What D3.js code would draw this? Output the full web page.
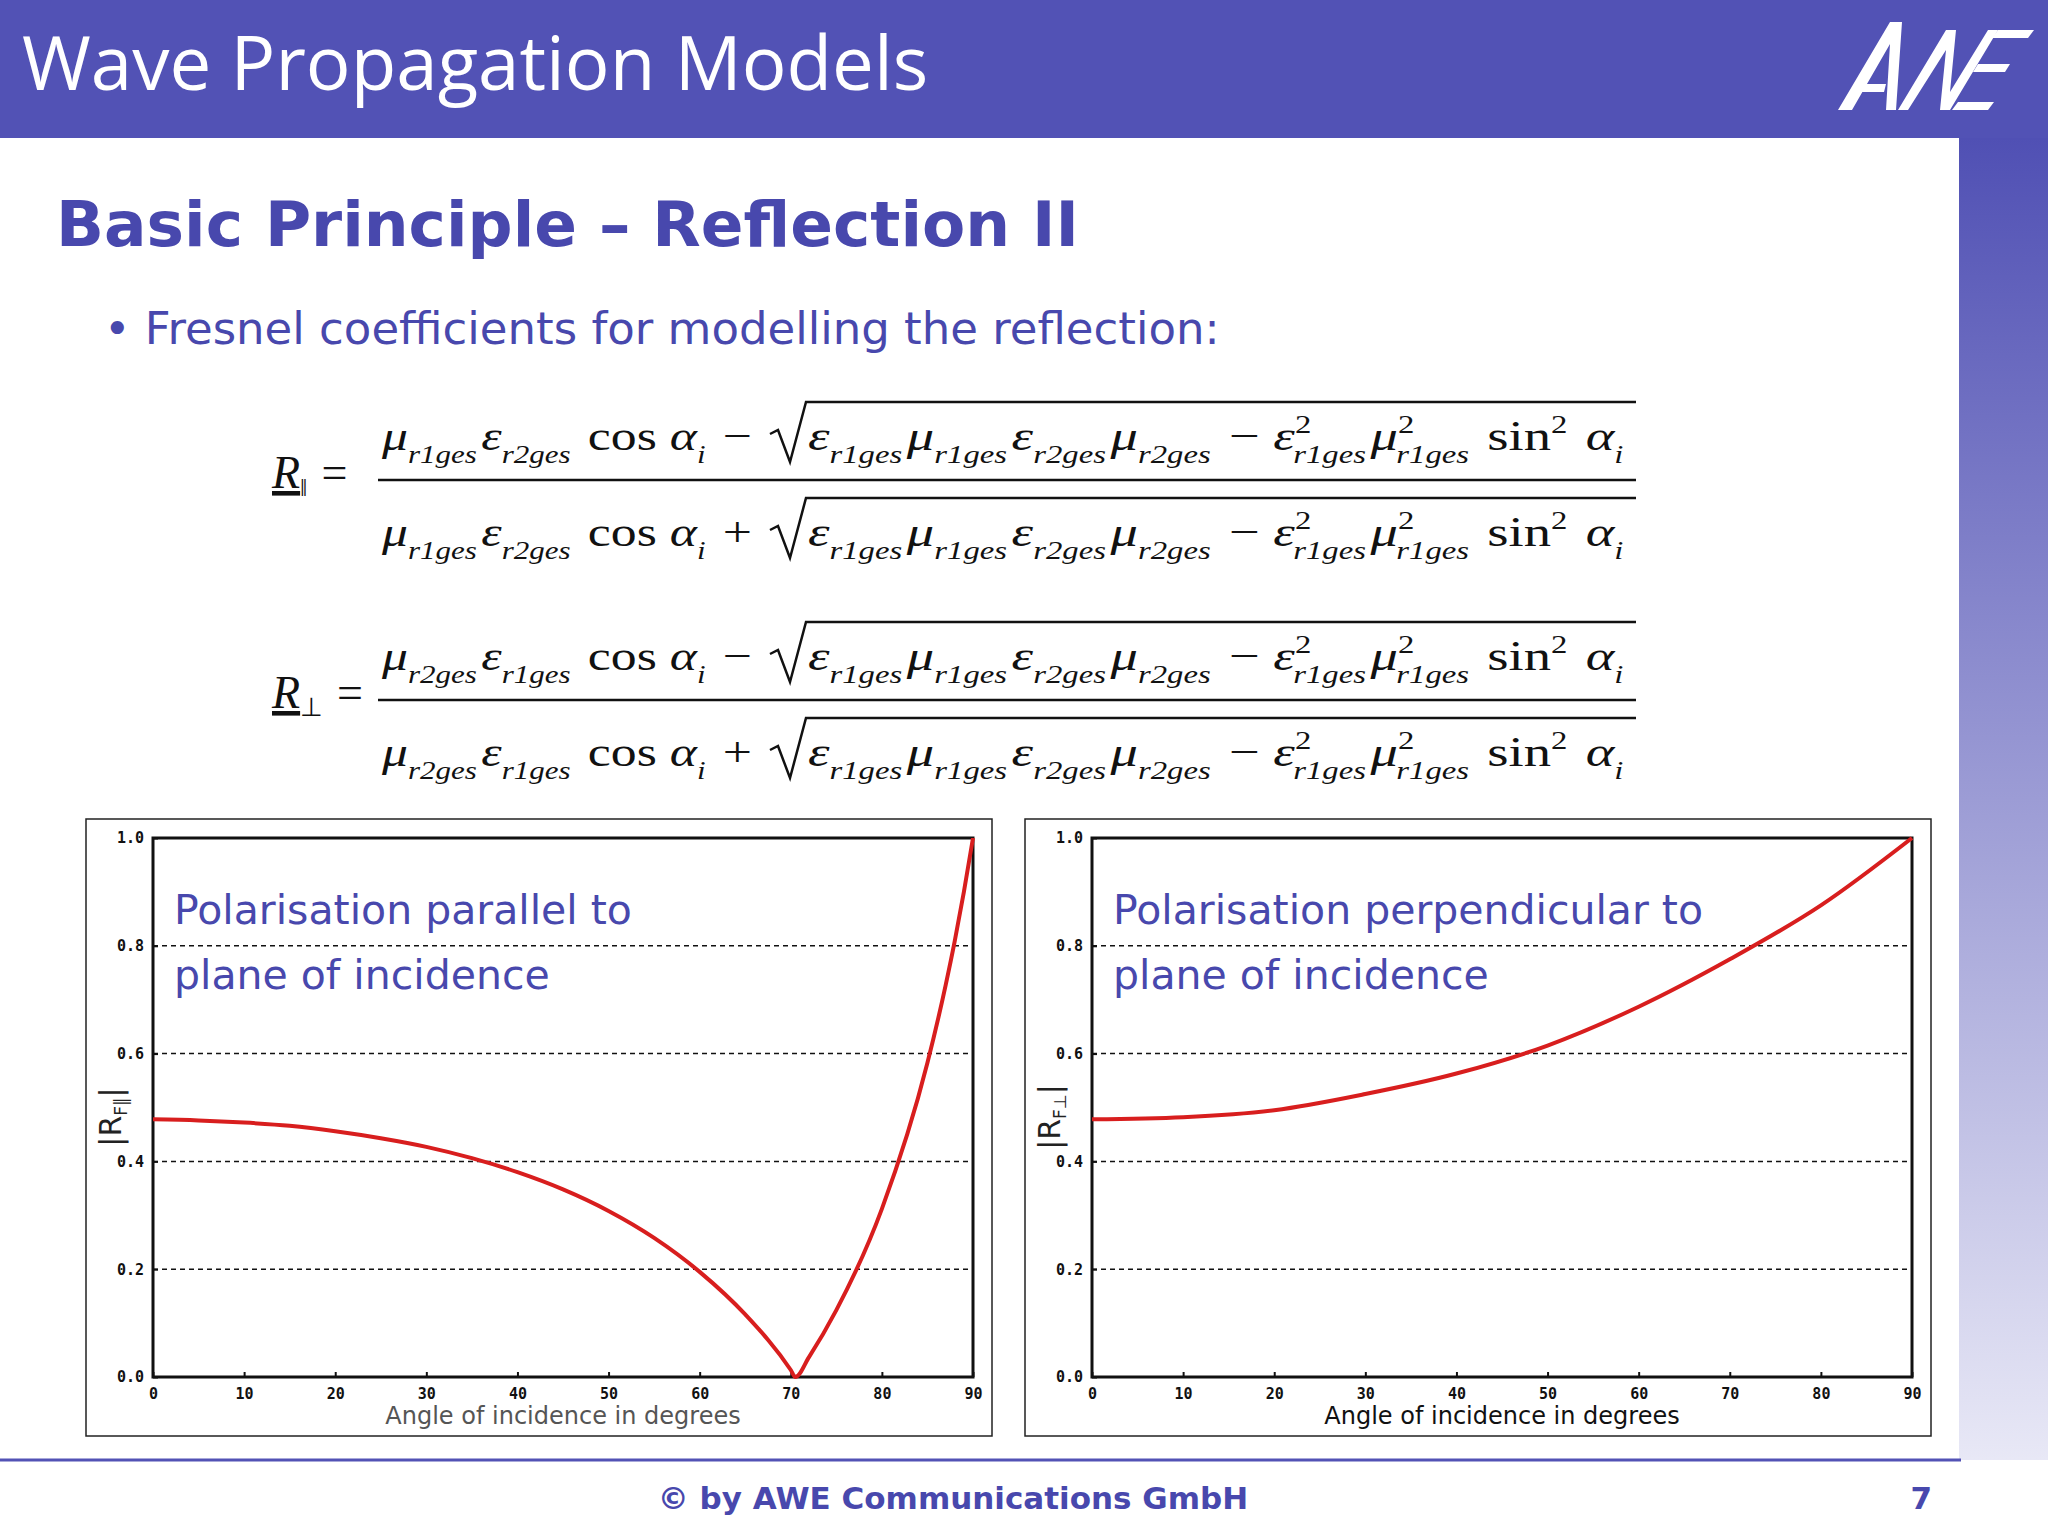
<!DOCTYPE html>
<html><head><meta charset="utf-8">
<script src="https://cdn.jsdelivr.net/npm/d3@7"></script>
<style>body{margin:0;background:#fff}svg{display:block}</style>
</head><body>
<script>
const titleText = "Wave Propagation Models";
const subtitleText = "Basic Principle \u2013 Reflection II";
const bulletText = "Fresnel coefficients for modelling the reflection:";
const footerText = "\u00a9 by AWE Communications GmbH";
const pageNumber = "7";
const xTicks = [0,10,20,30,40,50,60,70,80,90];
const yTicks = [0.0,0.2,0.4,0.6,0.8,1.0];
const parAngles = [0,5,10,15,20,25,30,35,40,45,50,55,60,65,70,70.5,72,75,80,85,87,88,89,90];
const parValues = [0.478,0.476,0.472,0.466,0.456,0.443,0.427,0.406,0.380,0.348,0.308,0.258,0.195,0.116,0.013,0.0,0.037,0.124,0.312,0.583,0.727,0.809,0.90,1.0];
const perAngles = [0,10,20,30,40,50,60,70,80,90];
const perValues = [0.478,0.482,0.495,0.525,0.563,0.615,0.687,0.775,0.875,1.0];
const labels = ["Polarisation parallel to|plane of incidence","Polarisation perpendicular to|plane of incidence"];

const W=2048,H=1538, BLUE="#5252b5", TXT="#4848ad";
const svg=d3.select("body").append("svg").attr("width",W).attr("height",H);
const defs=svg.append("defs");
const gr=defs.append("linearGradient").attr("id","side").attr("x1",0).attr("y1",0).attr("x2",0).attr("y2",1);
gr.append("stop").attr("offset","0").attr("stop-color","#5050b4");
gr.append("stop").attr("offset","1").attr("stop-color","#e8e8f6");
svg.append("rect").attr("x",1959).attr("y",138).attr("width",89).attr("height",1322).attr("fill","url(#side)");
svg.append("rect").attr("x",0).attr("y",0).attr("width",W).attr("height",138).attr("fill",BLUE);
svg.append("line").attr("x1",0).attr("x2",1961).attr("y1",1460).attr("y2",1460).attr("stroke",BLUE).attr("stroke-width",3);
svg.append("text").attr("x",22).attr("y",90).attr("font-family","Open Sans, sans-serif").attr("font-size",74.5).attr("fill","#fff").text(titleText);
// logo
const lg=svg.append("g").attr("transform","translate(1838,22)").attr("fill","#fff");
lg.append("path").attr("d","M0,88 L52,0 L64,0 L58,88 L48,88 L52,22 L14,88Z M20,62 L48,62 L46,70 L16,70Z");
lg.append("path").attr("d","M60,88 L108,8 L118,8 L112,70 L150,8 L160,8 L112,88 L102,88 L108,28 L70,88Z");
lg.append("path").attr("d","M160,8 L196,8 L190,16 L154,16Z M140,42 L172,42 L167,50 L135,50Z M120,80 L156,80 L150,88 L114,88Z");

svg.append("text").attr("x",56).attr("y",246).attr("font-family","Verdana, DejaVu Sans, sans-serif").attr("font-weight","bold").attr("font-size",63).attr("fill",TXT).text(subtitleText);
svg.append("text").attr("x",104).attr("y",344).attr("font-family","Verdana, DejaVu Sans, sans-serif").attr("font-size",45).attr("fill",TXT).text("\u2022 "+bulletText);

// equations
const SERIF="Liberation Serif, Times New Roman, serif";
function expr(x,y,tokens,size,len){
  const t=svg.append("text").attr("x",x).attr("y",y).attr("font-family",SERIF).attr("font-size",size).attr("fill","#111");
  tokens.forEach(k=>{
    const m=t.append("tspan").text(k.t).attr("font-style",k.i?"italic":"normal");
    if(k.sp) m.attr("dx",size*0.25);
    if(k.sup){ t.append("tspan").attr("font-size",size*0.6).attr("dy",-size*0.4).text(k.sup);
      if(k.sub){ t.append("tspan").attr("font-size",size*0.6).attr("font-style","italic").attr("dx",-size*0.33).attr("dy",size*0.7).text(k.sub); t.append("tspan").attr("dy",-size*0.3).text("\u200a"); }
      else t.append("tspan").attr("dy",size*0.4).text("\u200a");
    } else if(k.sub){ t.append("tspan").attr("font-size",size*0.6).attr("font-style","italic").attr("dy",size*0.3).text(k.sub); t.append("tspan").attr("dy",-size*0.3).text("\u200a"); }
  });
  if(len) t.attr("textLength",len).attr("lengthAdjust","spacingAndGlyphs");
  return t;
}
function fractionEq(y0,lhsSub,a,b){
  const s=42;
  const lhs=svg.append("text").attr("x",272).attr("y",y0+8).attr("font-family",SERIF).attr("font-size",s+4).attr("fill","#111");
  lhs.append("tspan").attr("font-style","italic").attr("text-decoration","underline").text("R");
  lhs.append("tspan").attr("font-size",26).attr("dy",8).text(lhsSub);
  lhs.append("tspan").attr("dy",-8).attr("dx",14).text("=");
  svg.append("line").attr("x1",378).attr("x2",1636).attr("y1",y0).attr("y2",y0).attr("stroke","#111").attr("stroke-width",2.5);
  [[-30,"\u2212"],[66,"+"]].forEach(([dy,op])=>{
    const by=y0+dy;
    expr(382,by,[{t:"\u03bc",i:1,sub:a},{t:"\u03b5",i:1,sub:b},{t:"cos ",sp:1},{t:"\u03b1",i:1,sub:"i"},{t:" "+op}],s,370);
    svg.append("path").attr("d",`M${770},${by-16} L${778},${by-20} L${790},${by+12} L${806},${by-48} L${1636},${by-48}`).attr("fill","none").attr("stroke","#111").attr("stroke-width",2.5);
    expr(808,by,[{t:"\u03b5",i:1,sub:"r1ges"},{t:"\u03bc",i:1,sub:"r1ges"},{t:"\u03b5",i:1,sub:"r2ges"},{t:"\u03bc",i:1,sub:"r2ges"},{t:" \u2212 "},{t:"\u03b5",i:1,sup:"2",sub:"r1ges"},{t:"\u03bc",i:1,sup:"2",sub:"r1ges"},{t:" sin",sup:"2"},{t:" \u03b1",i:1,sub:"i"}],s,820);
  });
}
fractionEq(480,"\u2016","r1ges","r2ges");
fractionEq(700,"\u22a5","r2ges","r1ges");

// charts
const panels=[{bx:86,px:153,ang:parAngles,val:parValues,lab:labels[0],sub:"F\u2016",xcol:"#555"},
              {bx:1025,px:1092,ang:perAngles,val:perValues,lab:labels[1],sub:"F\u22a5",xcol:"#111"}];
panels.forEach(p=>{
  svg.append("rect").attr("x",p.bx).attr("y",819).attr("width",906).attr("height",617).attr("fill","#fff").attr("stroke","#222").attr("stroke-width",1.5);
  const x=d3.scaleLinear().domain([0,90]).range([p.px,p.px+820]);
  const y=d3.scaleLinear().domain([0,1]).range([1377,838]);
  const g=svg.append("g");
  g.selectAll(".grid").data(yTicks.filter(v=>v>0&&v<1)).join("line").attr("x1",x(0)).attr("x2",x(90)).attr("y1",d=>y(d)).attr("y2",d=>y(d)).attr("stroke","#111").attr("stroke-width",1.5).attr("stroke-dasharray","5,4");
  const xa=g.append("g").attr("transform","translate(0,1377)").call(d3.axisBottom(x).tickValues(xTicks).tickSize(-5).tickFormat(d3.format("d")));
  const ya=g.append("g").attr("transform",`translate(${p.px},0)`).call(d3.axisLeft(y).tickValues(yTicks).tickSize(-5).tickFormat(d3.format(".1f")));
  [xa,ya].forEach(a=>{a.select(".domain").remove();a.selectAll("line").attr("stroke","#111").attr("stroke-width",2);a.selectAll("text").attr("font-family","DejaVu Sans Mono, monospace").attr("font-weight","bold").attr("font-size",15).attr("fill","#111");});
  xa.selectAll("text").attr("dy","1.25em"); ya.selectAll("text").attr("dx","-0.4em");
  g.append("rect").attr("x",x(0)).attr("y",y(1)).attr("width",x(90)-x(0)).attr("height",y(0)-y(1)).attr("fill","none").attr("stroke","#111").attr("stroke-width",3);
  const pts=p.ang.map((a,i)=>[a,p.val[i]]);
  g.append("path").datum(pts).attr("d",d3.line().x(d=>x(d[0])).y(d=>y(d[1])).curve(d3.curveMonotoneX)).attr("fill","none").attr("stroke","#d81e1e").attr("stroke-width",4);
  p.lab.split("|").forEach((l,i)=>g.append("text").attr("x",p.px+21).attr("y",924+i*65).attr("font-family","Verdana, DejaVu Sans, sans-serif").attr("font-size",41).attr("fill",TXT).text(l));
  g.append("text").attr("x",x(45)).attr("y",1424).attr("text-anchor","middle").attr("font-family","Verdana, DejaVu Sans, sans-serif").attr("font-size",24).attr("fill",p.xcol).text("Angle of incidence in degrees");
  const yl=g.append("text").attr("transform",`translate(${p.px-32},1117) rotate(-90)`).attr("text-anchor","middle").attr("font-family","DejaVu Sans, sans-serif").attr("font-size",30).attr("fill","#222");
  yl.append("tspan").text("|R"); yl.append("tspan").attr("font-size",17).attr("dy",6).text(p.sub); yl.append("tspan").attr("dy",-6).text("|");
});

svg.append("text").attr("x",953).attr("y",1509).attr("text-anchor","middle").attr("font-family","Verdana, DejaVu Sans, sans-serif").attr("font-weight","bold").attr("font-size",31).attr("fill",TXT).text(footerText);
svg.append("text").attr("x",1932).attr("y",1509).attr("text-anchor","end").attr("font-family","Verdana, DejaVu Sans, sans-serif").attr("font-weight","bold").attr("font-size",31).attr("fill",TXT).text(pageNumber);
</script>
</body></html>
